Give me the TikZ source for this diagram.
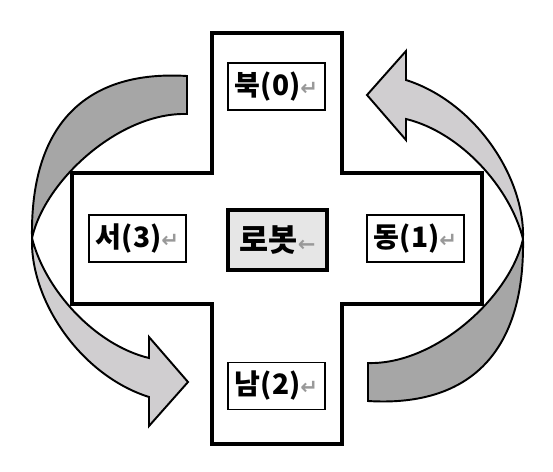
\documentclass[tikz,border=0pt]{standalone}
\usepackage{fontspec}
\newfontfamily\kor{Noto Sans CJK KR}
\newfontfamily\sym{DejaVu Sans}
\definecolor{bandback}{HTML}{A6A6A6}
\definecolor{bandfront}{HTML}{D0CED0}
\definecolor{robotfill}{HTML}{E6E6E6}
\newcommand\retmark{{\sym\fontsize{12}{12}\selectfont\color{gray!80}↵}}

\begin{document}
\begin{tikzpicture}[x=0.02cm,y=-0.02cm,
	dirbox/.style={draw=black,line width=0.6pt,fill=white,inner sep=0pt,
		minimum width=1.94cm,minimum height=0.94cm,
		font=\kor\bfseries\fontsize{16}{19}\selectfont},
	robotbox/.style={dirbox,line width=2.2pt,fill=robotfill,
		minimum width=1.98cm,minimum height=1.2cm,
		font=\kor\bfseries\fontsize{18}{21}\selectfont},
	backband/.style={fill=bandback,draw=black,line width=1.1pt},
	frontband/.style={fill=bandfront,draw=black,line width=1.1pt}]
\useasboundingbox (0,0) rectangle (553,471);
\coordinate[] (M) at (277.5,238.5);
% turning arrows
\foreach \r in {0,180}{
\begin{scope}[rotate around={\r:(M)}]
\draw [backband] (187,76) .. controls (90,70) and (30,120) .. (32,238)
	.. controls (45,180) and (120,112) .. (187,114) -- cycle;
\draw [frontband] (32,238) .. controls (30,300) and (80,375) .. (149,397)
	-- (149,426) -- (188,382) -- (149,337) -- (149,358)
	.. controls (95,345) and (45,290) .. (32,238) -- cycle;
\end{scope}}
% cross
\draw [line width=2.6pt] (212,33) -- (342,33) -- (342,173) -- (482,173) -- (482,304)
	-- (342,304) -- (342,444) -- (212,444) -- (212,304) -- (72,304) -- (72,173)
	-- (212,173) -- cycle;
\node[dirbox] (N) at (276.5,86.5) {북(0)\retmark};
\node[dirbox] (E) at (415.5,238.5) {동(1)\retmark};
\node[dirbox] (S) at (276.5,386) {남(2)\retmark};
\node[dirbox] (W) at (137.5,238.5) {서(3)\retmark};
\node[robotbox] (R) at (277.5,240) {로봇{\sym\fontsize{12}{12}\selectfont\color{gray!80}←}};
\end{tikzpicture}
\end{document}
